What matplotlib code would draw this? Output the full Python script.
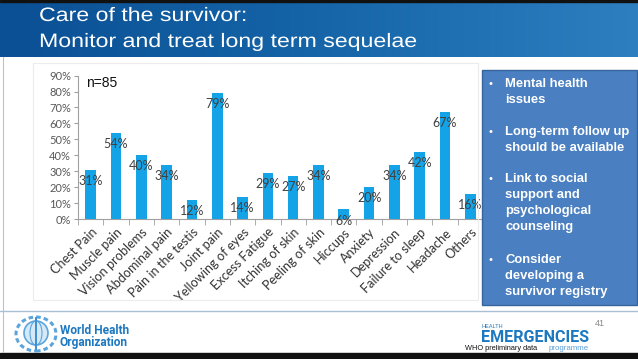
import numpy as np
import matplotlib
matplotlib.use('Agg')
import matplotlib.pyplot as plt
from matplotlib.patches import Rectangle, Ellipse
from matplotlib import patheffects
from matplotlib.transforms import Affine2D

# data
symptoms = ['Chest Pain', 'Muscle pain', 'Vision problems', 'Abdominal pain',
            'Pain in the testis', 'Joint pain', 'Yellowing of eyes', 'Excess Fatigue',
            'Itching of skin', 'Peeling of skin', 'Hiccups', 'Anxiety', 'Depression',
            'Failure to sleep', 'Headache', 'Others']
percent = [31, 54, 40, 34, 12, 79, 14, 29, 27, 34, 6, 20, 34, 42, 67, 16]
bullets = [['Mental health', 'issues'],
           ['Long-term follow up', 'should be available'],
           ['Link to social', 'support and', 'psychological', 'counseling'],
           ['Consider', 'developing a', 'survivor registry']]
title_lines = ['Care of the survivor:', 'Monitor and treat long term sequelae']

W, H = 638, 359
fig = plt.figure(figsize=(W/100, H/100), dpi=100)
fig.patch.set_facecolor('white')

def fx(x): return x / W
def fy(y): return 1 - y / H

# the slide is stretched sideways, so stretch the title text the same way
class Stretch(patheffects.AbstractPathEffect):
    def __init__(self, sx, x0):
        super().__init__()
        self.sx = sx
        self.x0 = x0
    def draw_path(self, renderer, gc, tpath, affine, rgbFace=None):
        aff = affine + Affine2D().translate(-self.x0, 0).scale(self.sx, 1).translate(self.x0, 0)
        renderer.draw_path(gc, tpath, aff, rgbFace)

# header band with gradient
bg = fig.add_axes([0, fy(57), 1, (57 - 2) / H])
grad = np.linspace(0, 1, 256).reshape(1, -1)
cmap = matplotlib.colors.LinearSegmentedColormap.from_list('hdr', ['#0b4f94', '#1565a8', '#2d7fc0'])
bg.imshow(grad, aspect='auto', cmap=cmap, extent=[0, 1, 0, 1])
bg.axis('off')
fig.patches.append(Rectangle((0, fy(2)), 1, 2 / H, transform=fig.transFigure, color='#111111'))
for line, yb in zip(title_lines, [21, 47]):
    fig.text(fx(39), fy(yb), line, color='white', fontsize=14, family='Liberation Sans',
             va='baseline', ha='left', path_effects=[Stretch(1.19, 39)])

# faint chart frame and slide border
fig.patches.append(Rectangle((fx(33), fy(300)), fx(478 - 33), (300 - 63) / H,
                             transform=fig.transFigure, fill=False, ec='#ececec', lw=0.8))
fig.lines.append(plt.Line2D([fx(3), fx(3)], [fy(57), fy(352)], transform=fig.transFigure,
                            color='#b8c4d0', lw=0.8))

# bar chart
ax = fig.add_axes([fx(78), fy(219), fx(483 - 78), (219 - 75.6) / H])
x = np.arange(len(symptoms))
vals = np.array(percent) / 100
ax.bar(x, vals, width=0.42, color='#14a3e6')
for xi, v, p in zip(x, vals, percent):
    ax.text(xi, v - 0.07, '%d%%' % p, ha='center', va='center', fontsize=9,
            color='#404040', family='Lato')
ax.set_xlim(-0.5, len(symptoms) - 0.5)
ax.set_ylim(0, 0.9)
ax.set_yticks(np.arange(0, 0.91, 0.1))
ax.set_yticklabels(['%d%%' % round(t * 100) for t in np.arange(0, 0.91, 0.1)],
                   fontsize=8, color='#595959', family='Lato')
ax.set_xticks(x)
ax.set_xticklabels(symptoms, rotation=45, ha='right', rotation_mode='anchor',
                   fontsize=9.2, color='#333333', family='Lato')
ax.set_xticks(np.arange(-0.5, len(symptoms)), minor=True)
ax.tick_params(axis='x', which='major', length=0, pad=5)
ax.tick_params(axis='x', which='minor', length=4, color='#a0a0a0')
ax.tick_params(axis='y', length=3, color='#a0a0a0', pad=2)
for s in ['top', 'right']:
    ax.spines[s].set_visible(False)
for s in ['left', 'bottom']:
    ax.spines[s].set_color('#a0a0a0')
    ax.spines[s].set_linewidth(0.8)
ax.text(0.02, 0.95, 'n=85', transform=ax.transAxes, fontsize=10, family='Liberation Sans',
        va='center', ha='left', color='#111111')

# blue box of recommendations
fig.patches.append(Rectangle((fx(482), fy(305)), fx(637 - 482), (305 - 70) / H,
                             transform=fig.transFigure, fc='#4a7fc1', ec='#36659e', lw=1))
starts = [84, 132, 179, 260]
for item, y0 in zip(bullets, starts):
    fig.text(fx(489), fy(y0), '\u2022', color='white', fontsize=8, va='center',
             family='Liberation Sans')
    for k, line in enumerate(item):
        fig.text(fx(505), fy(y0 + 16 * k), line, color='white', fontsize=9.4,
                 fontweight='bold', va='center', family='Liberation Sans')

# footer
fig.lines.append(plt.Line2D([0, 1], [fy(311), fy(311)], transform=fig.transFigure,
                            color='#a9bfd6', lw=1))
fig.patches.append(Rectangle((0, 0), 1, 6 / H, transform=fig.transFigure, color='#111111'))
# simple WHO emblem
emb = '#5ca5dc'
fig.patches.append(Ellipse((fx(36), fy(334)), fx(40), 34 / H, transform=fig.transFigure,
                           fill=False, ec=emb, lw=2.2, ls=(0, (1.5, 1))))
fig.patches.append(Ellipse((fx(36), fy(333)), fx(24), 24 / H, transform=fig.transFigure,
                           fc='#d6e9f7', ec=emb, lw=1.2))
fig.patches.append(Ellipse((fx(36), fy(333)), fx(12), 24 / H, transform=fig.transFigure,
                           fill=False, ec=emb, lw=0.8))
fig.lines.append(plt.Line2D([fx(36), fx(36)], [fy(318), fy(349)], transform=fig.transFigure,
                            color='#3d8fd0', lw=1.4))
fig.text(fx(60), fy(334), 'World Health', color='#1c78c0', fontsize=8.6, fontweight='bold',
         family='Roboto', va='baseline')
fig.text(fx(60), fy(346), 'Organization', color='#1c78c0', fontsize=8.6, fontweight='bold',
         family='Roboto', va='baseline')
fig.text(fx(482), fy(328), 'HEALTH', color='#1c78c0', fontsize=4, va='baseline',
         family='Liberation Sans')
fig.text(fx(481), fy(342), 'EMERGENCIES', color='#1c78c0', fontsize=11.6, fontweight='bold',
         va='baseline', family='Roboto')
fig.text(fx(465), fy(348), 'WHO preliminary data', color='#111111', fontsize=5.3, va='center',
         family='Liberation Sans')
fig.text(fx(549), fy(348), 'programme', color='#5a9fd8', fontsize=5.7, va='center',
         family='Liberation Sans')
fig.text(fx(595), fy(323), '41', color='#888888', fontsize=6.5, va='center',
         family='Liberation Sans')

fig.savefig('out.png', dpi=100, facecolor='white')
